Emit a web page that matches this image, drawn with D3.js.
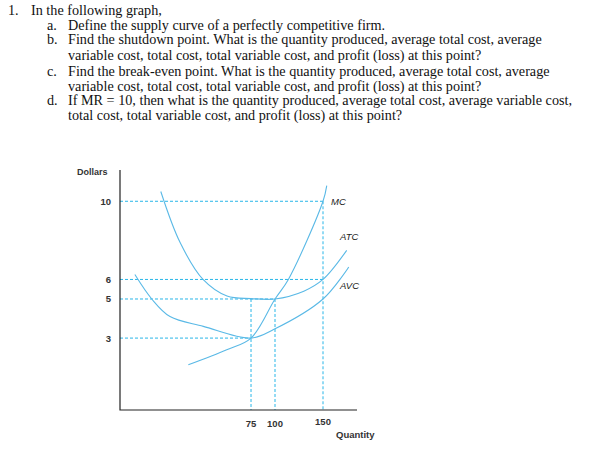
<!DOCTYPE html><html><head><meta charset="utf-8"><script src="https://cdn.jsdelivr.net/npm/d3@7"></script>
<style>body{margin:0;background:#fff}</style></head><body><svg id="c" width="591" height="454"></svg>
<script>
const questionLines=[
 ["1.","In the following graph,",0],
 ["a.","Define the supply curve of a perfectly competitive firm.",1],
 ["b.","Find the shutdown point. What is the quantity produced, average total cost, average",1],
 ["","variable cost, total cost, total variable cost, and profit (loss) at this point?",1],
 ["c.","Find the break-even point. What is the quantity produced, average total cost, average",1],
 ["","variable cost, total cost, total variable cost, and profit (loss) at this point?",1],
 ["d.","If MR = 10, then what is the quantity produced, average total cost, average variable cost,",1],
 ["","total cost, total variable cost, and profit (loss) at this point?",1]];
const yTicks=[3,5,6,10];
const xTicks=[75,100,150];
const ATC=[[-19,10.5],[1,7.9],[25,6],[50,5.15],[75,5.02],[100,5],[130,5.4],[150,6],[174.7,7.49]];
const AVC=[[-46,6.25],[-28.4,5],[-9.4,4.1],[25.3,3.6],[75,3],[99,3.45],[150,5],[176.8,6.64]];
const MC=[[9.7,1.63],[49.7,2.4],[75,3],[100,5],[113.9,6],[150,10],[153.9,10.8]];
const guides=[[10,150],[6,150],[5,100],[3,75]];
const drops=[[75,5],[100,5],[150,10]];
const svg=d3.select("#c");
const lh=[10,25,39.5,55,71,86,100.5,115];
questionLines.forEach((l,i)=>{
 const t=svg.append("g").attr("font-family","Liberation Serif").attr("font-size",14.2).attr("fill","#111");
 t.append("text").attr("x",l[2]?47:8).attr("y",lh[i]+4.5).text(l[0]);
 t.append("text").attr("x",l[2]?68:31).attr("y",lh[i]+4.5).text(l[1]);
});
const x=d3.scaleLinear().domain([-61.5,185]).range([120,356.6]);
const y=d3.scaleLinear().domain([-0.68,11.6]).range([410,170]);
const blue="#29b6e8";
const g=svg.append("g");
guides.forEach(([p,q])=>{
 g.append("line").attr("x1",x(-61.5)).attr("x2",x(q)).attr("y1",y(p)).attr("y2",y(p)).attr("stroke",blue).attr("stroke-dasharray","3,2").attr("stroke-width",1);
});
drops.forEach(([q,p])=>{
 g.append("line").attr("x1",x(q)).attr("x2",x(q)).attr("y1",y(p)).attr("y2",y(-0.68)).attr("stroke",blue).attr("stroke-dasharray","3,2").attr("stroke-width",1);
});
const line=d3.line().x(d=>x(d[0])).y(d=>y(d[1])).curve(d3.curveCatmullRom);
[ATC,AVC,MC].forEach(c=>g.append("path").attr("d",line(c)).attr("fill","none").attr("stroke","#5ab9e6").attr("stroke-width",1.1));
g.append("path").attr("d",`M120,170V410H357`).attr("fill","none").attr("stroke","#222").attr("stroke-width",1.2);
const f="Liberation Sans";
svg.append("text").attr("x",77).attr("y",175).attr("font-family",f).attr("font-size",9).attr("font-weight","bold").attr("fill","#333").text("Dollars");
yTicks.forEach(v=>svg.append("text").attr("x",111).attr("y",y(v)+3.5).attr("text-anchor","end").attr("font-family",f).attr("font-size",9.5).attr("font-weight","bold").attr("fill","#333").text(v));
xTicks.forEach(v=>svg.append("text").attr("x",x(v)).attr("y",v==150?425:427).attr("text-anchor","middle").attr("font-family",f).attr("font-size",9.5).attr("font-weight","bold").attr("fill","#333").text(v));
svg.append("text").attr("x",336).attr("y",438).attr("font-family",f).attr("font-size",9.5).attr("font-weight","bold").attr("fill","#333").text("Quantity");
[["MC",331,205],["ATC",340,240],["AVC",340,289]].forEach(([t,a,b])=>svg.append("text").attr("x",a).attr("y",b).attr("font-family",f).attr("font-size",9.5).attr("font-style","italic").attr("fill","#222").text(t));
</script></body></html>
